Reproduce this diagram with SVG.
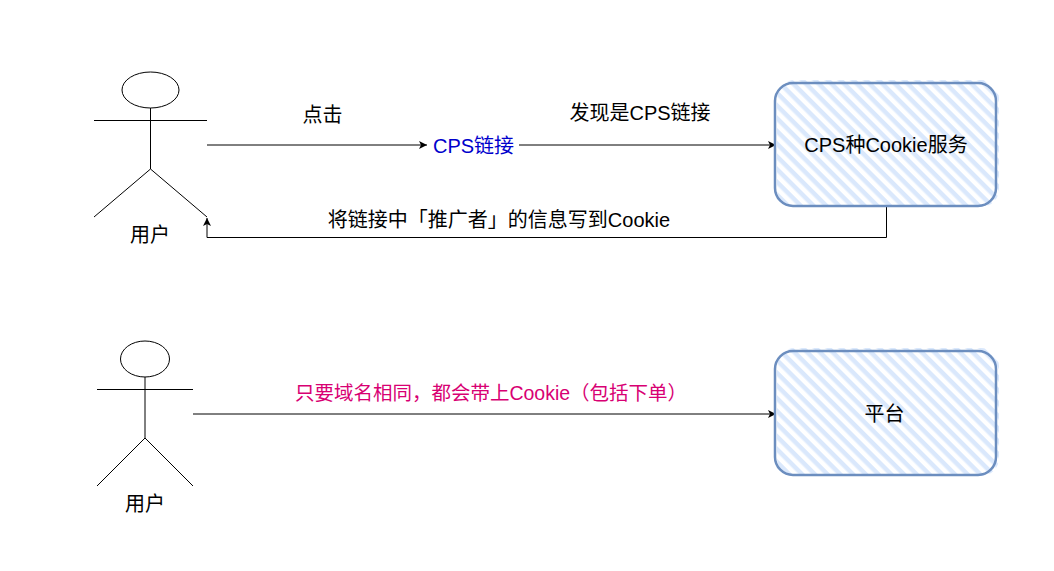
<svg xmlns="http://www.w3.org/2000/svg" width="1054" height="571" viewBox="0 0 1054 571">
<style>
text{font-family:"Liberation Sans","Noto Sans CJK SC",sans-serif;text-anchor:middle;font-size:20px;fill:#000}
.a{fill:none;stroke:#000;stroke-width:1}
.b{fill:url(#h);stroke:none}
.o{fill:none;stroke:#6c8ebf;stroke-width:2.5}
.c{fill:none;stroke:#000;stroke-width:1}
</style>
<defs>
<pattern id="h" width="9" height="9" patternUnits="userSpaceOnUse" patternTransform="rotate(45)">
<rect width="9" height="4.500" fill="#dae8fc"/>
</pattern>
<marker id="m" markerWidth="9" markerHeight="8" refX="8" refY="4" orient="auto" markerUnits="userSpaceOnUse">
<path d="M0 0L8 4L0 8L2 4Z" fill="#000"/>
</marker>
</defs>
<rect width="1054" height="571" fill="#fff"/>
<g id="connectors">
<path class="c" d="M207 145H427" marker-end="url(#m)"/>
<path class="c" d="M519 145H776" marker-end="url(#m)"/>
<path class="c" d="M886.500 206V237.500H207V218" marker-end="url(#m)"/>
<path class="c" d="M193 414H776" marker-end="url(#m)"/>
</g>
<g id="actor1">
<ellipse class="a" cx="150.500" cy="90" rx="28.500" ry="18"/>
<path class="a" d="M150.500 108V169M94 120.500H207M94 217L150.500 169L207 217"/>
<text x="150" y="242">用户</text>
</g>
<g id="label-click"><text x="322.500" y="122">点击</text></g>
<g id="cps-link"><text x="473.500" y="152.500" style="fill:#0000cc">CPS链接</text></g>
<g id="label-found"><text x="640" y="119.500">发现是CPS链接</text></g>
<g id="label-write"><text x="499" y="227">将链接中「推广者」的信息写到Cookie</text></g>
<g id="service">
<rect class="b" x="777" y="80" width="222" height="127" rx="18"/>
<rect class="o" x="775" y="83" width="221" height="123" rx="18"/>
<text x="886" y="151.500">CPS种Cookie服务</text>
</g>
<g id="actor2">
<ellipse class="a" cx="145" cy="359" rx="24.500" ry="18"/>
<path class="a" d="M145 377V438M97 389.500H193M97 486L145 438L193 486"/>
<text x="145" y="511">用户</text>
</g>
<g id="label-domain"><text x="491" y="400" style="fill:#d80073;font-size:19.500px">只要域名相同，都会带上Cookie（包括下单）</text></g>
<g id="platform">
<rect class="b" x="777" y="348" width="222" height="128" rx="18"/>
<rect class="o" x="775" y="351" width="221" height="124" rx="18"/>
<text x="884.500" y="421">平台</text>
</g>
</svg>
